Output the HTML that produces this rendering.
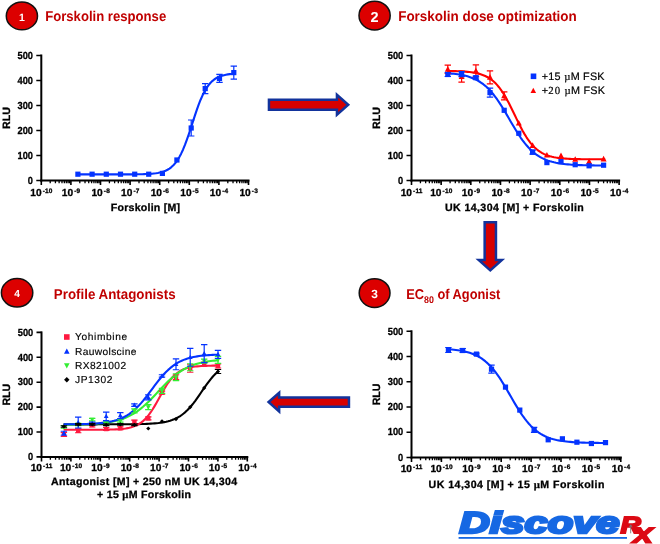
<!DOCTYPE html><html><head><meta charset="utf-8"><title>Forskolin assay workflow</title><style>html,body{margin:0;padding:0;background:#fff}svg{display:block}</style></head><body>
<svg width="660" height="544" viewBox="0 0 660 544" text-rendering="geometricPrecision">
<rect width="660" height="544" fill="#fff"/>
<g stroke="#000" stroke-width="2" fill="none" stroke-linecap="butt">
<path d="M41.30 54.50V181.50"/>
<path d="M40.30 180.50H249.50"/>
</g>
<path d="M36.30 180.50H41.30M36.30 155.50H41.30M36.30 130.50H41.30M36.30 105.50H41.30M36.30 80.50H41.30M36.30 55.50H41.30" stroke="#000" stroke-width="1.6" fill="none"/>
<path d="M41.30 180.50V185.00M70.90 180.50V185.00M100.50 180.50V185.00M130.10 180.50V185.00M159.70 180.50V185.00M189.30 180.50V185.00M218.90 180.50V185.00M248.50 180.50V185.00" stroke="#000" stroke-width="1.6" fill="none"/>
<path d="M50.21 180.50V183.30M55.42 180.50V183.30M59.12 180.50V183.30M61.99 180.50V183.30M64.33 180.50V183.30M66.31 180.50V183.30M68.03 180.50V183.30M69.55 180.50V183.30M79.81 180.50V183.30M85.02 180.50V183.30M88.72 180.50V183.30M91.59 180.50V183.30M93.93 180.50V183.30M95.91 180.50V183.30M97.63 180.50V183.30M99.15 180.50V183.30M109.41 180.50V183.30M114.62 180.50V183.30M118.32 180.50V183.30M121.19 180.50V183.30M123.53 180.50V183.30M125.51 180.50V183.30M127.23 180.50V183.30M128.75 180.50V183.30M139.01 180.50V183.30M144.22 180.50V183.30M147.92 180.50V183.30M150.79 180.50V183.30M153.13 180.50V183.30M155.11 180.50V183.30M156.83 180.50V183.30M158.35 180.50V183.30M168.61 180.50V183.30M173.82 180.50V183.30M177.52 180.50V183.30M180.39 180.50V183.30M182.73 180.50V183.30M184.71 180.50V183.30M186.43 180.50V183.30M187.95 180.50V183.30M198.21 180.50V183.30M203.42 180.50V183.30M207.12 180.50V183.30M209.99 180.50V183.30M212.33 180.50V183.30M214.31 180.50V183.30M216.03 180.50V183.30M217.55 180.50V183.30M227.81 180.50V183.30M233.02 180.50V183.30M236.72 180.50V183.30M239.59 180.50V183.30M241.93 180.50V183.30M243.91 180.50V183.30M245.63 180.50V183.30M247.15 180.50V183.30" stroke="#000" stroke-width="1.3" fill="none"/>
<g font-family='"Liberation Sans", Arial, sans-serif' font-weight="bold" font-size="10.3" fill="#000" stroke="#000" stroke-width="0.3" text-anchor="end">
<text transform="translate(33.00 183.70) scale(0.9 1)">0</text>
<text transform="translate(33.00 158.70) scale(0.9 1)">100</text>
<text transform="translate(33.00 133.70) scale(0.9 1)">200</text>
<text transform="translate(33.00 108.70) scale(0.9 1)">300</text>
<text transform="translate(33.00 83.70) scale(0.9 1)">400</text>
<text transform="translate(33.00 58.70) scale(0.9 1)">500</text>
</g>
<g font-family='"Liberation Sans", Arial, sans-serif' font-weight="bold" font-size="10.2" fill="#000" stroke="#000" stroke-width="0.3">
<text x="41.50" y="196.30" text-anchor="middle">10<tspan font-size="6.5" dy="-3.0" dx="1.0" letter-spacing="0.2">-10</tspan></text>
<text x="71.10" y="196.30" text-anchor="middle">10<tspan font-size="6.5" dy="-3.0" dx="1.0" letter-spacing="0.2">-9</tspan></text>
<text x="100.70" y="196.30" text-anchor="middle">10<tspan font-size="6.5" dy="-3.0" dx="1.0" letter-spacing="0.2">-8</tspan></text>
<text x="130.30" y="196.30" text-anchor="middle">10<tspan font-size="6.5" dy="-3.0" dx="1.0" letter-spacing="0.2">-7</tspan></text>
<text x="159.90" y="196.30" text-anchor="middle">10<tspan font-size="6.5" dy="-3.0" dx="1.0" letter-spacing="0.2">-6</tspan></text>
<text x="189.50" y="196.30" text-anchor="middle">10<tspan font-size="6.5" dy="-3.0" dx="1.0" letter-spacing="0.2">-5</tspan></text>
<text x="219.10" y="196.30" text-anchor="middle">10<tspan font-size="6.5" dy="-3.0" dx="1.0" letter-spacing="0.2">-4</tspan></text>
<text x="248.70" y="196.30" text-anchor="middle">10<tspan font-size="6.5" dy="-3.0" dx="1.0" letter-spacing="0.2">-3</tspan></text>
</g>
<text transform="translate(9.90 118.00) rotate(-90)" font-family='"Liberation Sans", Arial, sans-serif' font-weight="bold" font-size="10.6" text-anchor="middle" fill="#000" stroke="#000" stroke-width="0.3">RLU</text>
<text x="110.75" y="210.50" font-family='"Liberation Sans", Arial, sans-serif' font-weight="bold" font-size="10.6" textLength="69.30" lengthAdjust="spacing" fill="#000" stroke="#000" stroke-width="0.3">Forskolin [M]</text>
<path d="M78.00 174.42 L79.95 174.42 L81.90 174.42 L83.84 174.42 L85.79 174.42 L87.73 174.42 L89.68 174.42 L91.63 174.42 L93.57 174.42 L95.52 174.42 L97.47 174.42 L99.41 174.42 L101.36 174.42 L103.30 174.42 L105.25 174.42 L107.20 174.42 L109.14 174.42 L111.09 174.42 L113.04 174.42 L114.98 174.42 L116.93 174.42 L118.87 174.41 L120.82 174.41 L122.77 174.40 L124.71 174.40 L126.66 174.39 L128.61 174.38 L130.55 174.37 L132.50 174.36 L134.44 174.34 L136.39 174.32 L138.34 174.29 L140.28 174.25 L142.23 174.21 L144.17 174.15 L146.12 174.07 L148.07 173.98 L150.01 173.86 L151.96 173.71 L153.91 173.51 L155.85 173.27 L157.80 172.96 L159.74 172.57 L161.69 172.09 L163.64 171.47 L165.58 170.71 L167.53 169.75 L169.48 168.56 L171.42 167.09 L173.37 165.30 L175.31 163.11 L177.26 160.47 L179.21 157.34 L181.15 153.68 L183.10 149.46 L185.05 144.70 L186.99 139.45 L188.94 133.80 L190.88 127.87 L192.83 121.83 L194.78 115.85 L196.72 110.09 L198.67 104.68 L200.61 99.74 L202.56 95.33 L204.51 91.47 L206.45 88.15 L208.40 85.35 L210.35 83.01 L212.29 81.08 L214.24 79.50 L216.18 78.22 L218.13 77.18 L220.08 76.35 L222.02 75.69 L223.97 75.16 L225.92 74.74 L227.86 74.41 L229.81 74.14 L231.75 73.93 L233.70 73.77" stroke="#0433ff" stroke-width="2.1" fill="none" stroke-linejoin="round"/>
<path d="M191.20 120.00V136.00M188.00 120.00H194.40M188.00 136.00H194.40" stroke="#0433ff" stroke-width="1.2" fill="none"/>
<path d="M205.20 83.60V93.60M202.00 83.60H208.40M202.00 93.60H208.40" stroke="#0433ff" stroke-width="1.2" fill="none"/>
<path d="M219.50 74.40V82.40M216.30 74.40H222.70M216.30 82.40H222.70" stroke="#0433ff" stroke-width="1.2" fill="none"/>
<path d="M233.80 66.10V79.10M230.60 66.10H237.00M230.60 79.10H237.00" stroke="#0433ff" stroke-width="1.2" fill="none"/>
<rect x="75.30" y="171.60" width="5.20" height="5.20" fill="#0433ff"/>
<rect x="89.50" y="171.60" width="5.20" height="5.20" fill="#0433ff"/>
<rect x="103.70" y="171.60" width="5.20" height="5.20" fill="#0433ff"/>
<rect x="117.90" y="171.60" width="5.20" height="5.20" fill="#0433ff"/>
<rect x="132.10" y="171.60" width="5.20" height="5.20" fill="#0433ff"/>
<rect x="146.10" y="171.60" width="5.20" height="5.20" fill="#0433ff"/>
<rect x="159.80" y="170.80" width="5.20" height="5.20" fill="#0433ff"/>
<rect x="174.30" y="157.40" width="5.20" height="5.20" fill="#0433ff"/>
<rect x="188.60" y="125.40" width="5.20" height="5.20" fill="#0433ff"/>
<rect x="202.60" y="86.00" width="5.20" height="5.20" fill="#0433ff"/>
<rect x="216.90" y="75.80" width="5.20" height="5.20" fill="#0433ff"/>
<rect x="231.20" y="70.00" width="5.20" height="5.20" fill="#0433ff"/>
<g stroke="#000" stroke-width="2" fill="none" stroke-linecap="butt">
<path d="M411.50 54.50V181.50"/>
<path d="M410.50 180.50H620.12"/>
</g>
<path d="M406.50 180.50H411.50M406.50 155.50H411.50M406.50 130.50H411.50M406.50 105.50H411.50M406.50 80.50H411.50M406.50 55.50H411.50" stroke="#000" stroke-width="1.6" fill="none"/>
<path d="M411.50 180.50V185.00M441.16 180.50V185.00M470.82 180.50V185.00M500.48 180.50V185.00M530.14 180.50V185.00M559.80 180.50V185.00M589.46 180.50V185.00M619.12 180.50V185.00" stroke="#000" stroke-width="1.6" fill="none"/>
<path d="M420.43 180.50V183.30M425.65 180.50V183.30M429.36 180.50V183.30M432.23 180.50V183.30M434.58 180.50V183.30M436.57 180.50V183.30M438.29 180.50V183.30M439.80 180.50V183.30M450.09 180.50V183.30M455.31 180.50V183.30M459.02 180.50V183.30M461.89 180.50V183.30M464.24 180.50V183.30M466.23 180.50V183.30M467.95 180.50V183.30M469.46 180.50V183.30M479.75 180.50V183.30M484.97 180.50V183.30M488.68 180.50V183.30M491.55 180.50V183.30M493.90 180.50V183.30M495.89 180.50V183.30M497.61 180.50V183.30M499.12 180.50V183.30M509.41 180.50V183.30M514.63 180.50V183.30M518.34 180.50V183.30M521.21 180.50V183.30M523.56 180.50V183.30M525.55 180.50V183.30M527.27 180.50V183.30M528.78 180.50V183.30M539.07 180.50V183.30M544.29 180.50V183.30M548.00 180.50V183.30M550.87 180.50V183.30M553.22 180.50V183.30M555.21 180.50V183.30M556.93 180.50V183.30M558.44 180.50V183.30M568.73 180.50V183.30M573.95 180.50V183.30M577.66 180.50V183.30M580.53 180.50V183.30M582.88 180.50V183.30M584.87 180.50V183.30M586.59 180.50V183.30M588.10 180.50V183.30M598.39 180.50V183.30M603.61 180.50V183.30M607.32 180.50V183.30M610.19 180.50V183.30M612.54 180.50V183.30M614.53 180.50V183.30M616.25 180.50V183.30M617.76 180.50V183.30" stroke="#000" stroke-width="1.3" fill="none"/>
<g font-family='"Liberation Sans", Arial, sans-serif' font-weight="bold" font-size="10.3" fill="#000" stroke="#000" stroke-width="0.3" text-anchor="end">
<text transform="translate(403.20 183.70) scale(0.9 1)">0</text>
<text transform="translate(403.20 158.70) scale(0.9 1)">100</text>
<text transform="translate(403.20 133.70) scale(0.9 1)">200</text>
<text transform="translate(403.20 108.70) scale(0.9 1)">300</text>
<text transform="translate(403.20 83.70) scale(0.9 1)">400</text>
<text transform="translate(403.20 58.70) scale(0.9 1)">500</text>
</g>
<g font-family='"Liberation Sans", Arial, sans-serif' font-weight="bold" font-size="10.2" fill="#000" stroke="#000" stroke-width="0.3">
<text x="411.70" y="196.30" text-anchor="middle">10<tspan font-size="6.5" dy="-3.0" dx="1.0" letter-spacing="0.2">-11</tspan></text>
<text x="441.36" y="196.30" text-anchor="middle">10<tspan font-size="6.5" dy="-3.0" dx="1.0" letter-spacing="0.2">-10</tspan></text>
<text x="471.02" y="196.30" text-anchor="middle">10<tspan font-size="6.5" dy="-3.0" dx="1.0" letter-spacing="0.2">-9</tspan></text>
<text x="500.68" y="196.30" text-anchor="middle">10<tspan font-size="6.5" dy="-3.0" dx="1.0" letter-spacing="0.2">-8</tspan></text>
<text x="530.34" y="196.30" text-anchor="middle">10<tspan font-size="6.5" dy="-3.0" dx="1.0" letter-spacing="0.2">-7</tspan></text>
<text x="560.00" y="196.30" text-anchor="middle">10<tspan font-size="6.5" dy="-3.0" dx="1.0" letter-spacing="0.2">-6</tspan></text>
<text x="589.66" y="196.30" text-anchor="middle">10<tspan font-size="6.5" dy="-3.0" dx="1.0" letter-spacing="0.2">-5</tspan></text>
<text x="619.32" y="196.30" text-anchor="middle">10<tspan font-size="6.5" dy="-3.0" dx="1.0" letter-spacing="0.2">-4</tspan></text>
</g>
<text transform="translate(379.80 118.00) rotate(-90)" font-family='"Liberation Sans", Arial, sans-serif' font-weight="bold" font-size="10.6" text-anchor="middle" fill="#000" stroke="#000" stroke-width="0.3">RLU</text>
<text x="445.00" y="210.50" font-family='"Liberation Sans", Arial, sans-serif' font-weight="bold" font-size="10.6" textLength="138.80" lengthAdjust="spacing" fill="#000" stroke="#000" stroke-width="0.3">UK 14,304 [M] + Forskolin</text>
<path d="M447.86 70.97 L449.82 71.00 L451.79 71.04 L453.76 71.09 L455.72 71.15 L457.69 71.22 L459.66 71.30 L461.62 71.40 L463.59 71.52 L465.56 71.66 L467.52 71.84 L469.49 72.05 L471.46 72.29 L473.42 72.59 L475.39 72.95 L477.36 73.37 L479.32 73.87 L481.29 74.47 L483.26 75.17 L485.23 76.01 L487.19 76.99 L489.16 78.14 L491.13 79.49 L493.09 81.04 L495.06 82.84 L497.03 84.89 L498.99 87.22 L500.96 89.83 L502.93 92.74 L504.89 95.92 L506.86 99.38 L508.83 103.06 L510.79 106.93 L512.76 110.94 L514.73 115.01 L516.69 119.09 L518.66 123.10 L520.63 126.98 L522.59 130.67 L524.56 134.12 L526.53 137.32 L528.49 140.23 L530.46 142.85 L532.43 145.19 L534.40 147.25 L536.36 149.05 L538.33 150.62 L540.30 151.97 L542.26 153.13 L544.23 154.11 L546.20 154.95 L548.16 155.66 L550.13 156.26 L552.10 156.77 L554.06 157.19 L556.03 157.55 L558.00 157.85 L559.96 158.10 L561.93 158.31 L563.90 158.48 L565.86 158.63 L567.83 158.75 L569.80 158.85 L571.76 158.93 L573.73 159.00 L575.70 159.06 L577.66 159.11 L579.63 159.15 L581.60 159.18 L583.57 159.21 L585.53 159.23 L587.50 159.25 L589.47 159.27 L591.43 159.28 L593.40 159.29 L595.37 159.30 L597.33 159.31 L599.30 159.32 L601.27 159.32 L603.23 159.33 L605.20 159.33" stroke="#ff0000" stroke-width="2.1" fill="none" stroke-linejoin="round"/>
<path d="M447.86 73.26 L449.82 73.42 L451.79 73.59 L453.76 73.80 L455.72 74.03 L457.69 74.30 L459.66 74.61 L461.62 74.96 L463.59 75.37 L465.56 75.83 L467.52 76.36 L469.49 76.97 L471.46 77.67 L473.42 78.45 L475.39 79.35 L477.36 80.36 L479.32 81.50 L481.29 82.78 L483.26 84.21 L485.23 85.81 L487.19 87.58 L489.16 89.54 L491.13 91.68 L493.09 94.01 L495.06 96.53 L497.03 99.23 L498.99 102.10 L500.96 105.12 L502.93 108.28 L504.89 111.55 L506.86 114.89 L508.83 118.27 L510.79 121.66 L512.76 125.02 L514.73 128.32 L516.69 131.52 L518.66 134.60 L520.63 137.54 L522.59 140.31 L524.56 142.90 L526.53 145.30 L528.49 147.52 L530.46 149.54 L532.43 151.39 L534.40 153.05 L536.36 154.55 L538.33 155.89 L540.30 157.08 L542.26 158.14 L544.23 159.08 L546.20 159.91 L548.16 160.64 L550.13 161.28 L552.10 161.84 L554.06 162.33 L556.03 162.76 L558.00 163.14 L559.96 163.46 L561.93 163.74 L563.90 163.99 L565.86 164.21 L567.83 164.39 L569.80 164.55 L571.76 164.69 L573.73 164.82 L575.70 164.92 L577.66 165.01 L579.63 165.09 L581.60 165.16 L583.57 165.22 L585.53 165.27 L587.50 165.32 L589.47 165.35 L591.43 165.39 L593.40 165.42 L595.37 165.44 L597.33 165.46 L599.30 165.48 L601.27 165.50 L603.23 165.51 L605.20 165.52" stroke="#0433ff" stroke-width="2.1" fill="none" stroke-linejoin="round"/>
<path d="M447.80 65.10V73.50M444.60 65.10H451.00M444.60 73.50H451.00" stroke="#ff0000" stroke-width="1.2" fill="none"/>
<path d="M461.60 71.10V82.10M458.40 71.10H464.80M458.40 82.10H464.80" stroke="#ff0000" stroke-width="1.2" fill="none"/>
<path d="M475.90 64.90V76.90M472.70 64.90H479.10M472.70 76.90H479.10" stroke="#ff0000" stroke-width="1.2" fill="none"/>
<path d="M490.00 70.80V83.80M486.80 70.80H493.20M486.80 83.80H493.20" stroke="#ff0000" stroke-width="1.2" fill="none"/>
<path d="M504.20 91.80V99.80M501.00 91.80H507.40M501.00 99.80H507.40" stroke="#ff0000" stroke-width="1.2" fill="none"/>
<path d="M447.80 66.10L450.80 71.70H444.80Z" fill="#ff0000"/>
<path d="M461.60 73.40L464.60 79.00H458.60Z" fill="#ff0000"/>
<path d="M475.90 67.70L478.90 73.30H472.90Z" fill="#ff0000"/>
<path d="M490.00 74.10L493.00 79.70H487.00Z" fill="#ff0000"/>
<path d="M504.20 92.60L507.20 98.20H501.20Z" fill="#ff0000"/>
<path d="M518.80 119.90L521.80 125.50H515.80Z" fill="#ff0000"/>
<path d="M532.60 142.30L535.60 147.90H529.60Z" fill="#ff0000"/>
<path d="M546.90 152.00L549.90 157.60H543.90Z" fill="#ff0000"/>
<path d="M561.00 152.60L564.00 158.20H558.00Z" fill="#ff0000"/>
<path d="M575.20 156.20L578.20 161.80H572.20Z" fill="#ff0000"/>
<path d="M589.10 158.30L592.10 163.90H586.10Z" fill="#ff0000"/>
<path d="M603.60 155.80L606.60 161.40H600.60Z" fill="#ff0000"/>
<path d="M447.80 72.50V76.50M444.60 72.50H451.00M444.60 76.50H451.00" stroke="#0433ff" stroke-width="1.2" fill="none"/>
<path d="M461.60 71.60V76.60M458.40 71.60H464.80M458.40 76.60H464.80" stroke="#0433ff" stroke-width="1.2" fill="none"/>
<path d="M475.90 76.20V79.20M472.70 76.20H479.10M472.70 79.20H479.10" stroke="#0433ff" stroke-width="1.2" fill="none"/>
<path d="M490.00 88.10V97.10M486.80 88.10H493.20M486.80 97.10H493.20" stroke="#0433ff" stroke-width="1.2" fill="none"/>
<path d="M532.60 150.20V154.20M529.40 150.20H535.80M529.40 154.20H535.80" stroke="#0433ff" stroke-width="1.2" fill="none"/>
<rect x="445.20" y="71.90" width="5.20" height="5.20" fill="#0433ff"/>
<rect x="459.00" y="71.50" width="5.20" height="5.20" fill="#0433ff"/>
<rect x="473.30" y="75.10" width="5.20" height="5.20" fill="#0433ff"/>
<rect x="487.40" y="90.00" width="5.20" height="5.20" fill="#0433ff"/>
<rect x="501.60" y="107.70" width="5.20" height="5.20" fill="#0433ff"/>
<rect x="516.20" y="130.70" width="5.20" height="5.20" fill="#0433ff"/>
<rect x="530.00" y="149.60" width="5.20" height="5.20" fill="#0433ff"/>
<rect x="544.30" y="160.00" width="5.20" height="5.20" fill="#0433ff"/>
<rect x="558.40" y="159.00" width="5.20" height="5.20" fill="#0433ff"/>
<rect x="572.60" y="162.10" width="5.20" height="5.20" fill="#0433ff"/>
<rect x="586.50" y="163.20" width="5.20" height="5.20" fill="#0433ff"/>
<rect x="601.00" y="162.60" width="5.20" height="5.20" fill="#0433ff"/>
<rect x="530.70" y="73.50" width="5.60" height="5.60" fill="#0433ff"/>
<path d="M533.30 87.80L536.10 93.00H530.50Z" fill="#ff0000"/>
<text x="541.8" y="80" font-family='"Liberation Sans", Arial, sans-serif' font-size="10.8" fill="#000" letter-spacing="0.18" stroke="#000" stroke-width="0.2">+15 <tspan dx="0.5" font-family="'Liberation Serif',serif">µ</tspan>M FSK</text>
<text x="541.8" y="94.4" font-family='"Liberation Sans", Arial, sans-serif' font-size="10.8" fill="#000" letter-spacing="0.22" stroke="#000" stroke-width="0.2">+<tspan font-family="'Liberation Serif',serif" letter-spacing="1">20</tspan> <tspan dx="0.2" font-family="'Liberation Serif',serif">µ</tspan>M FSK</text>
<g stroke="#000" stroke-width="2" fill="none" stroke-linecap="butt">
<path d="M411.50 330.30V458.50"/>
<path d="M410.50 457.50H621.80"/>
</g>
<path d="M406.50 457.50H411.50M406.50 432.26H411.50M406.50 407.02H411.50M406.50 381.78H411.50M406.50 356.54H411.50M406.50 331.30H411.50" stroke="#000" stroke-width="1.6" fill="none"/>
<path d="M411.50 457.50V462.00M441.40 457.50V462.00M471.30 457.50V462.00M501.20 457.50V462.00M531.10 457.50V462.00M561.00 457.50V462.00M590.90 457.50V462.00M620.80 457.50V462.00" stroke="#000" stroke-width="1.6" fill="none"/>
<path d="M420.50 457.50V460.30M425.77 457.50V460.30M429.50 457.50V460.30M432.40 457.50V460.30M434.77 457.50V460.30M436.77 457.50V460.30M438.50 457.50V460.30M440.03 457.50V460.30M450.40 457.50V460.30M455.67 457.50V460.30M459.40 457.50V460.30M462.30 457.50V460.30M464.67 457.50V460.30M466.67 457.50V460.30M468.40 457.50V460.30M469.93 457.50V460.30M480.30 457.50V460.30M485.57 457.50V460.30M489.30 457.50V460.30M492.20 457.50V460.30M494.57 457.50V460.30M496.57 457.50V460.30M498.30 457.50V460.30M499.83 457.50V460.30M510.20 457.50V460.30M515.47 457.50V460.30M519.20 457.50V460.30M522.10 457.50V460.30M524.47 457.50V460.30M526.47 457.50V460.30M528.20 457.50V460.30M529.73 457.50V460.30M540.10 457.50V460.30M545.37 457.50V460.30M549.10 457.50V460.30M552.00 457.50V460.30M554.37 457.50V460.30M556.37 457.50V460.30M558.10 457.50V460.30M559.63 457.50V460.30M570.00 457.50V460.30M575.27 457.50V460.30M579.00 457.50V460.30M581.90 457.50V460.30M584.27 457.50V460.30M586.27 457.50V460.30M588.00 457.50V460.30M589.53 457.50V460.30M599.90 457.50V460.30M605.17 457.50V460.30M608.90 457.50V460.30M611.80 457.50V460.30M614.17 457.50V460.30M616.17 457.50V460.30M617.90 457.50V460.30M619.43 457.50V460.30" stroke="#000" stroke-width="1.3" fill="none"/>
<g font-family='"Liberation Sans", Arial, sans-serif' font-weight="bold" font-size="10.3" fill="#000" stroke="#000" stroke-width="0.3" text-anchor="end">
<text transform="translate(403.20 460.70) scale(0.9 1)">0</text>
<text transform="translate(403.20 435.46) scale(0.9 1)">100</text>
<text transform="translate(403.20 410.22) scale(0.9 1)">200</text>
<text transform="translate(403.20 384.98) scale(0.9 1)">300</text>
<text transform="translate(403.20 359.74) scale(0.9 1)">400</text>
<text transform="translate(403.20 334.50) scale(0.9 1)">500</text>
</g>
<g font-family='"Liberation Sans", Arial, sans-serif' font-weight="bold" font-size="10.2" fill="#000" stroke="#000" stroke-width="0.3">
<text x="411.70" y="472.00" text-anchor="middle">10<tspan font-size="6.5" dy="-3.0" dx="1.0" letter-spacing="0.2">-11</tspan></text>
<text x="441.60" y="472.00" text-anchor="middle">10<tspan font-size="6.5" dy="-3.0" dx="1.0" letter-spacing="0.2">-10</tspan></text>
<text x="471.50" y="472.00" text-anchor="middle">10<tspan font-size="6.5" dy="-3.0" dx="1.0" letter-spacing="0.2">-9</tspan></text>
<text x="501.40" y="472.00" text-anchor="middle">10<tspan font-size="6.5" dy="-3.0" dx="1.0" letter-spacing="0.2">-8</tspan></text>
<text x="531.30" y="472.00" text-anchor="middle">10<tspan font-size="6.5" dy="-3.0" dx="1.0" letter-spacing="0.2">-7</tspan></text>
<text x="561.20" y="472.00" text-anchor="middle">10<tspan font-size="6.5" dy="-3.0" dx="1.0" letter-spacing="0.2">-6</tspan></text>
<text x="591.10" y="472.00" text-anchor="middle">10<tspan font-size="6.5" dy="-3.0" dx="1.0" letter-spacing="0.2">-5</tspan></text>
<text x="621.00" y="472.00" text-anchor="middle">10<tspan font-size="6.5" dy="-3.0" dx="1.0" letter-spacing="0.2">-4</tspan></text>
</g>
<text transform="translate(379.80 394.40) rotate(-90)" font-family='"Liberation Sans", Arial, sans-serif' font-weight="bold" font-size="10.6" text-anchor="middle" fill="#000" stroke="#000" stroke-width="0.3">RLU</text>
<text x="428.60" y="487.80" font-family='"Liberation Sans", Arial, sans-serif' font-weight="bold" font-size="10.6" textLength="175.80" lengthAdjust="spacing" fill="#000" stroke="#000" stroke-width="0.3">UK 14,304 [M] + 15 <tspan font-family="'Liberation Serif',serif">µ</tspan>M Forskolin</text>
<path d="M447.98 349.22 L449.95 349.37 L451.92 349.54 L453.90 349.74 L455.87 349.97 L457.85 350.23 L459.82 350.53 L461.79 350.87 L463.77 351.26 L465.74 351.71 L467.71 352.23 L469.69 352.82 L471.66 353.49 L473.63 354.26 L475.61 355.13 L477.58 356.11 L479.55 357.22 L481.53 358.46 L483.50 359.86 L485.47 361.42 L487.45 363.15 L489.42 365.06 L491.39 367.16 L493.37 369.45 L495.34 371.93 L497.31 374.59 L499.29 377.44 L501.26 380.44 L503.23 383.59 L505.21 386.86 L507.18 390.22 L509.15 393.63 L511.13 397.07 L513.10 400.49 L515.07 403.86 L517.05 407.14 L519.02 410.32 L520.99 413.35 L522.97 416.23 L524.94 418.93 L526.91 421.44 L528.89 423.76 L530.86 425.90 L532.83 427.84 L534.81 429.60 L536.78 431.19 L538.75 432.62 L540.73 433.89 L542.70 435.02 L544.67 436.03 L546.65 436.92 L548.62 437.70 L550.59 438.39 L552.57 438.99 L554.54 439.52 L556.51 439.98 L558.49 440.39 L560.46 440.74 L562.44 441.05 L564.41 441.31 L566.38 441.55 L568.36 441.75 L570.33 441.92 L572.30 442.08 L574.28 442.21 L576.25 442.32 L578.22 442.42 L580.20 442.51 L582.17 442.58 L584.14 442.65 L586.12 442.70 L588.09 442.75 L590.06 442.79 L592.04 442.83 L594.01 442.86 L595.98 442.89 L597.96 442.91 L599.93 442.93 L601.90 442.95 L603.88 442.96 L605.85 442.98" stroke="#0433ff" stroke-width="2.1" fill="none" stroke-linejoin="round"/>
<path d="M448.40 347.50V352.50M445.20 347.50H451.60M445.20 352.50H451.60" stroke="#0433ff" stroke-width="1.2" fill="none"/>
<path d="M462.70 348.50V352.50M459.50 348.50H465.90M459.50 352.50H465.90" stroke="#0433ff" stroke-width="1.2" fill="none"/>
<path d="M476.50 353.10V355.10M473.30 353.10H479.70M473.30 355.10H479.70" stroke="#0433ff" stroke-width="1.2" fill="none"/>
<path d="M491.50 365.20V373.20M488.30 365.20H494.70M488.30 373.20H494.70" stroke="#0433ff" stroke-width="1.2" fill="none"/>
<path d="M534.10 427.30V432.30M530.90 427.30H537.30M530.90 432.30H537.30" stroke="#0433ff" stroke-width="1.2" fill="none"/>
<rect x="445.80" y="347.40" width="5.20" height="5.20" fill="#0433ff"/>
<rect x="460.10" y="347.90" width="5.20" height="5.20" fill="#0433ff"/>
<rect x="473.90" y="351.50" width="5.20" height="5.20" fill="#0433ff"/>
<rect x="488.90" y="366.60" width="5.20" height="5.20" fill="#0433ff"/>
<rect x="502.90" y="384.50" width="5.20" height="5.20" fill="#0433ff"/>
<rect x="517.20" y="407.50" width="5.20" height="5.20" fill="#0433ff"/>
<rect x="531.50" y="427.20" width="5.20" height="5.20" fill="#0433ff"/>
<rect x="545.60" y="437.20" width="5.20" height="5.20" fill="#0433ff"/>
<rect x="559.80" y="436.20" width="5.20" height="5.20" fill="#0433ff"/>
<rect x="574.30" y="439.60" width="5.20" height="5.20" fill="#0433ff"/>
<rect x="588.80" y="440.90" width="5.20" height="5.20" fill="#0433ff"/>
<rect x="602.90" y="440.00" width="5.20" height="5.20" fill="#0433ff"/>
<g stroke="#000" stroke-width="2" fill="none" stroke-linecap="butt">
<path d="M41.50 331.40V457.90"/>
<path d="M40.50 456.90H248.30"/>
</g>
<path d="M36.50 456.90H41.50M36.50 432.00H41.50M36.50 407.10H41.50M36.50 382.20H41.50M36.50 357.30H41.50M36.50 332.40H41.50" stroke="#000" stroke-width="1.6" fill="none"/>
<path d="M41.50 456.90V461.40M70.90 456.90V461.40M100.30 456.90V461.40M129.70 456.90V461.40M159.10 456.90V461.40M188.50 456.90V461.40M217.90 456.90V461.40M247.30 456.90V461.40" stroke="#000" stroke-width="1.6" fill="none"/>
<path d="M50.35 456.90V459.70M55.53 456.90V459.70M59.20 456.90V459.70M62.05 456.90V459.70M64.38 456.90V459.70M66.35 456.90V459.70M68.05 456.90V459.70M69.55 456.90V459.70M79.75 456.90V459.70M84.93 456.90V459.70M88.60 456.90V459.70M91.45 456.90V459.70M93.78 456.90V459.70M95.75 456.90V459.70M97.45 456.90V459.70M98.95 456.90V459.70M109.15 456.90V459.70M114.33 456.90V459.70M118.00 456.90V459.70M120.85 456.90V459.70M123.18 456.90V459.70M125.15 456.90V459.70M126.85 456.90V459.70M128.35 456.90V459.70M138.55 456.90V459.70M143.73 456.90V459.70M147.40 456.90V459.70M150.25 456.90V459.70M152.58 456.90V459.70M154.55 456.90V459.70M156.25 456.90V459.70M157.75 456.90V459.70M167.95 456.90V459.70M173.13 456.90V459.70M176.80 456.90V459.70M179.65 456.90V459.70M181.98 456.90V459.70M183.95 456.90V459.70M185.65 456.90V459.70M187.15 456.90V459.70M197.35 456.90V459.70M202.53 456.90V459.70M206.20 456.90V459.70M209.05 456.90V459.70M211.38 456.90V459.70M213.35 456.90V459.70M215.05 456.90V459.70M216.55 456.90V459.70M226.75 456.90V459.70M231.93 456.90V459.70M235.60 456.90V459.70M238.45 456.90V459.70M240.78 456.90V459.70M242.75 456.90V459.70M244.45 456.90V459.70M245.95 456.90V459.70" stroke="#000" stroke-width="1.3" fill="none"/>
<g font-family='"Liberation Sans", Arial, sans-serif' font-weight="bold" font-size="10.3" fill="#000" stroke="#000" stroke-width="0.3" text-anchor="end">
<text transform="translate(33.20 460.10) scale(0.9 1)">0</text>
<text transform="translate(33.20 435.20) scale(0.9 1)">100</text>
<text transform="translate(33.20 410.30) scale(0.9 1)">200</text>
<text transform="translate(33.20 385.40) scale(0.9 1)">300</text>
<text transform="translate(33.20 360.50) scale(0.9 1)">400</text>
<text transform="translate(33.20 335.60) scale(0.9 1)">500</text>
</g>
<g font-family='"Liberation Sans", Arial, sans-serif' font-weight="bold" font-size="10.2" fill="#000" stroke="#000" stroke-width="0.3">
<text x="41.70" y="470.70" text-anchor="middle">10<tspan font-size="6.5" dy="-3.0" dx="1.0" letter-spacing="0.2">-11</tspan></text>
<text x="71.10" y="470.70" text-anchor="middle">10<tspan font-size="6.5" dy="-3.0" dx="1.0" letter-spacing="0.2">-10</tspan></text>
<text x="100.50" y="470.70" text-anchor="middle">10<tspan font-size="6.5" dy="-3.0" dx="1.0" letter-spacing="0.2">-9</tspan></text>
<text x="129.90" y="470.70" text-anchor="middle">10<tspan font-size="6.5" dy="-3.0" dx="1.0" letter-spacing="0.2">-8</tspan></text>
<text x="159.30" y="470.70" text-anchor="middle">10<tspan font-size="6.5" dy="-3.0" dx="1.0" letter-spacing="0.2">-7</tspan></text>
<text x="188.70" y="470.70" text-anchor="middle">10<tspan font-size="6.5" dy="-3.0" dx="1.0" letter-spacing="0.2">-6</tspan></text>
<text x="218.10" y="470.70" text-anchor="middle">10<tspan font-size="6.5" dy="-3.0" dx="1.0" letter-spacing="0.2">-5</tspan></text>
<text x="247.50" y="470.70" text-anchor="middle">10<tspan font-size="6.5" dy="-3.0" dx="1.0" letter-spacing="0.2">-4</tspan></text>
</g>
<text transform="translate(10.20 394.65) rotate(-90)" font-family='"Liberation Sans", Arial, sans-serif' font-weight="bold" font-size="10.6" text-anchor="middle" fill="#000" stroke="#000" stroke-width="0.3">RLU</text>
<text x="51.10" y="485.20" font-family='"Liberation Sans", Arial, sans-serif' font-weight="bold" font-size="10.6" textLength="186.10" lengthAdjust="spacing" fill="#000" stroke="#000" stroke-width="0.3">Antagonist [M] + 250 nM UK 14,304</text>
<text x="97.00" y="498.40" font-family='"Liberation Sans", Arial, sans-serif' font-weight="bold" font-size="10.6" textLength="94.00" lengthAdjust="spacing" fill="#000" stroke="#000" stroke-width="0.3">+ 15 <tspan font-family="'Liberation Serif',serif">µ</tspan>M Forskolin</text>
<path d="M63.62 424.33 L65.56 424.33 L67.50 424.33 L69.43 424.33 L71.37 424.33 L73.30 424.33 L75.24 424.33 L77.18 424.33 L79.11 424.33 L81.05 424.33 L82.98 424.33 L84.92 424.33 L86.86 424.33 L88.79 424.33 L90.73 424.33 L92.66 424.33 L94.60 424.33 L96.54 424.33 L98.47 424.32 L100.41 424.32 L102.34 424.32 L104.28 424.32 L106.22 424.32 L108.15 424.32 L110.09 424.31 L112.02 424.31 L113.96 424.31 L115.90 424.30 L117.83 424.30 L119.77 424.29 L121.70 424.28 L123.64 424.27 L125.57 424.26 L127.51 424.25 L129.45 424.23 L131.38 424.21 L133.32 424.19 L135.25 424.17 L137.19 424.13 L139.13 424.10 L141.06 424.05 L143.00 424.00 L144.93 423.94 L146.87 423.86 L148.81 423.77 L150.74 423.67 L152.68 423.55 L154.61 423.40 L156.55 423.22 L158.49 423.02 L160.42 422.77 L162.36 422.48 L164.29 422.14 L166.23 421.74 L168.17 421.27 L170.10 420.72 L172.04 420.08 L173.97 419.33 L175.91 418.46 L177.85 417.46 L179.78 416.31 L181.72 415.00 L183.65 413.52 L185.59 411.85 L187.53 410.00 L189.46 407.96 L191.40 405.73 L193.33 403.33 L195.27 400.78 L197.20 398.10 L199.14 395.34 L201.08 392.52 L203.01 389.69 L204.95 386.89 L206.88 384.17 L208.82 381.56 L210.76 379.09 L212.69 376.79 L214.63 374.66 L216.56 372.72 L218.50 370.97" stroke="#000" stroke-width="2.1" fill="none" stroke-linejoin="round"/>
<path d="M63.62 429.81 L65.56 429.81 L67.50 429.81 L69.43 429.81 L71.37 429.81 L73.30 429.81 L75.24 429.80 L77.18 429.80 L79.11 429.80 L81.05 429.80 L82.98 429.80 L84.92 429.80 L86.86 429.79 L88.79 429.79 L90.73 429.78 L92.66 429.78 L94.60 429.77 L96.54 429.76 L98.47 429.74 L100.41 429.73 L102.34 429.71 L104.28 429.68 L106.22 429.65 L108.15 429.62 L110.09 429.57 L112.02 429.51 L113.96 429.44 L115.90 429.35 L117.83 429.24 L119.77 429.10 L121.70 428.92 L123.64 428.71 L125.57 428.45 L127.51 428.12 L129.45 427.72 L131.38 427.23 L133.32 426.62 L135.25 425.89 L137.19 425.00 L139.13 423.92 L141.06 422.64 L143.00 421.12 L144.93 419.33 L146.87 417.25 L148.81 414.89 L150.74 412.22 L152.68 409.28 L154.61 406.09 L156.55 402.72 L158.49 399.23 L160.42 395.70 L162.36 392.22 L164.29 388.86 L166.23 385.70 L168.17 382.79 L170.10 380.15 L172.04 377.82 L173.97 375.77 L175.91 374.01 L177.85 372.52 L179.78 371.26 L181.72 370.20 L183.65 369.33 L185.59 368.61 L187.53 368.02 L189.46 367.54 L191.40 367.14 L193.33 366.82 L195.27 366.57 L197.20 366.36 L199.14 366.19 L201.08 366.05 L203.01 365.94 L204.95 365.85 L206.88 365.78 L208.82 365.73 L210.76 365.68 L212.69 365.64 L214.63 365.61 L216.56 365.59 L218.50 365.57" stroke="#ff1a40" stroke-width="2.1" fill="none" stroke-linejoin="round"/>
<path d="M63.62 424.69 L65.56 424.67 L67.50 424.65 L69.43 424.62 L71.37 424.59 L73.30 424.56 L75.24 424.53 L77.18 424.49 L79.11 424.44 L81.05 424.39 L82.98 424.33 L84.92 424.27 L86.86 424.19 L88.79 424.11 L90.73 424.01 L92.66 423.90 L94.60 423.78 L96.54 423.64 L98.47 423.48 L100.41 423.31 L102.34 423.11 L104.28 422.89 L106.22 422.63 L108.15 422.35 L110.09 422.03 L112.02 421.67 L113.96 421.27 L115.90 420.82 L117.83 420.32 L119.77 419.76 L121.70 419.14 L123.64 418.45 L125.57 417.69 L127.51 416.85 L129.45 415.92 L131.38 414.90 L133.32 413.79 L135.25 412.59 L137.19 411.28 L139.13 409.87 L141.06 408.37 L143.00 406.76 L144.93 405.07 L146.87 403.28 L148.81 401.42 L150.74 399.48 L152.68 397.49 L154.61 395.46 L156.55 393.40 L158.49 391.32 L160.42 389.25 L162.36 387.21 L164.29 385.20 L166.23 383.24 L168.17 381.34 L170.10 379.52 L172.04 377.78 L173.97 376.14 L175.91 374.59 L177.85 373.14 L179.78 371.79 L181.72 370.54 L183.65 369.39 L185.59 368.33 L187.53 367.37 L189.46 366.49 L191.40 365.69 L193.33 364.97 L195.27 364.32 L197.20 363.73 L199.14 363.21 L201.08 362.74 L203.01 362.32 L204.95 361.94 L206.88 361.61 L208.82 361.31 L210.76 361.04 L212.69 360.81 L214.63 360.60 L216.56 360.41 L218.50 360.25" stroke="#33ee33" stroke-width="2.1" fill="none" stroke-linejoin="round"/>
<path d="M63.62 424.35 L65.56 424.34 L67.50 424.32 L69.43 424.31 L71.37 424.29 L73.30 424.26 L75.24 424.24 L77.18 424.21 L79.11 424.17 L81.05 424.13 L82.98 424.08 L84.92 424.02 L86.86 423.96 L88.79 423.88 L90.73 423.80 L92.66 423.70 L94.60 423.58 L96.54 423.44 L98.47 423.29 L100.41 423.11 L102.34 422.90 L104.28 422.66 L106.22 422.39 L108.15 422.07 L110.09 421.71 L112.02 421.29 L113.96 420.82 L115.90 420.27 L117.83 419.65 L119.77 418.94 L121.70 418.14 L123.64 417.24 L125.57 416.22 L127.51 415.08 L129.45 413.81 L131.38 412.40 L133.32 410.84 L135.25 409.14 L137.19 407.28 L139.13 405.29 L141.06 403.15 L143.00 400.88 L144.93 398.50 L146.87 396.03 L148.81 393.48 L150.74 390.89 L152.68 388.28 L154.61 385.69 L156.55 383.13 L158.49 380.64 L160.42 378.24 L162.36 375.96 L164.29 373.79 L166.23 371.77 L168.17 369.89 L170.10 368.16 L172.04 366.57 L173.97 365.14 L175.91 363.84 L177.85 362.67 L179.78 361.63 L181.72 360.71 L183.65 359.89 L185.59 359.17 L187.53 358.53 L189.46 357.97 L191.40 357.48 L193.33 357.06 L195.27 356.68 L197.20 356.36 L199.14 356.08 L201.08 355.83 L203.01 355.62 L204.95 355.43 L206.88 355.27 L208.82 355.14 L210.76 355.02 L212.69 354.91 L214.63 354.82 L216.56 354.75 L218.50 354.68" stroke="#0433ff" stroke-width="2.1" fill="none" stroke-linejoin="round"/>
<path d="M63.90 432.50V436.48M60.70 432.50H67.10M60.70 436.48H67.10" stroke="#ff1a40" stroke-width="1.2" fill="none"/>
<path d="M78.20 428.76V432.75M75.00 428.76H81.40M75.00 432.75H81.40" stroke="#ff1a40" stroke-width="1.2" fill="none"/>
<path d="M92.20 423.04V427.02M89.00 423.04H95.40M89.00 427.02H95.40" stroke="#ff1a40" stroke-width="1.2" fill="none"/>
<path d="M106.20 427.52V430.51M103.00 427.52H109.40M103.00 430.51H109.40" stroke="#ff1a40" stroke-width="1.2" fill="none"/>
<path d="M120.30 426.77V429.76M117.10 426.77H123.50M117.10 429.76H123.50" stroke="#ff1a40" stroke-width="1.2" fill="none"/>
<path d="M134.40 420.05V424.03M131.20 420.05H137.60M131.20 424.03H137.60" stroke="#ff1a40" stroke-width="1.2" fill="none"/>
<path d="M148.30 416.81V419.80M145.10 416.81H151.50M145.10 419.80H151.50" stroke="#ff1a40" stroke-width="1.2" fill="none"/>
<path d="M162.00 391.16V394.15M158.80 391.16H165.20M158.80 394.15H165.20" stroke="#ff1a40" stroke-width="1.2" fill="none"/>
<path d="M176.00 374.73V379.71M172.80 374.73H179.20M172.80 379.71H179.20" stroke="#ff1a40" stroke-width="1.2" fill="none"/>
<path d="M190.20 364.77V372.24M187.00 364.77H193.40M187.00 372.24H193.40" stroke="#ff1a40" stroke-width="1.2" fill="none"/>
<path d="M204.20 362.28V366.26M201.00 362.28H207.40M201.00 366.26H207.40" stroke="#ff1a40" stroke-width="1.2" fill="none"/>
<path d="M218.00 364.02V368.01M214.80 364.02H221.20M214.80 368.01H221.20" stroke="#ff1a40" stroke-width="1.2" fill="none"/>
<rect x="61.70" y="432.29" width="4.40" height="4.40" fill="#ff1a40"/>
<rect x="76.00" y="428.56" width="4.40" height="4.40" fill="#ff1a40"/>
<rect x="90.00" y="422.83" width="4.40" height="4.40" fill="#ff1a40"/>
<rect x="104.00" y="426.81" width="4.40" height="4.40" fill="#ff1a40"/>
<rect x="118.10" y="426.06" width="4.40" height="4.40" fill="#ff1a40"/>
<rect x="132.20" y="419.84" width="4.40" height="4.40" fill="#ff1a40"/>
<rect x="146.10" y="416.10" width="4.40" height="4.40" fill="#ff1a40"/>
<rect x="159.80" y="390.46" width="4.40" height="4.40" fill="#ff1a40"/>
<rect x="173.80" y="375.02" width="4.40" height="4.40" fill="#ff1a40"/>
<rect x="188.00" y="366.31" width="4.40" height="4.40" fill="#ff1a40"/>
<rect x="202.00" y="362.07" width="4.40" height="4.40" fill="#ff1a40"/>
<rect x="215.80" y="363.81" width="4.40" height="4.40" fill="#ff1a40"/>
<path d="M63.90 425.77V428.26M60.70 425.77H67.10M60.70 428.26H67.10" stroke="#33ee33" stroke-width="1.2" fill="none"/>
<path d="M78.20 423.28V425.77M75.00 423.28H81.40M75.00 425.77H81.40" stroke="#33ee33" stroke-width="1.2" fill="none"/>
<path d="M92.20 418.30V420.79M89.00 418.30H95.40M89.00 420.79H95.40" stroke="#33ee33" stroke-width="1.2" fill="none"/>
<path d="M106.20 422.04V424.53M103.00 422.04H109.40M103.00 424.53H109.40" stroke="#33ee33" stroke-width="1.2" fill="none"/>
<path d="M120.30 419.55V422.04M117.10 419.55H123.50M117.10 422.04H123.50" stroke="#33ee33" stroke-width="1.2" fill="none"/>
<path d="M134.40 408.84V412.83M131.20 408.84H137.60M131.20 412.83H137.60" stroke="#33ee33" stroke-width="1.2" fill="none"/>
<path d="M148.30 404.61V409.59M145.10 404.61H151.50M145.10 409.59H151.50" stroke="#33ee33" stroke-width="1.2" fill="none"/>
<path d="M162.00 388.42V393.40M158.80 388.42H165.20M158.80 393.40H165.20" stroke="#33ee33" stroke-width="1.2" fill="none"/>
<path d="M176.00 373.73V380.71M172.80 373.73H179.20M172.80 380.71H179.20" stroke="#33ee33" stroke-width="1.2" fill="none"/>
<path d="M190.20 363.77V370.75M187.00 363.77H193.40M187.00 370.75H193.40" stroke="#33ee33" stroke-width="1.2" fill="none"/>
<path d="M204.20 359.04V363.03M201.00 359.04H207.40M201.00 363.03H207.40" stroke="#33ee33" stroke-width="1.2" fill="none"/>
<path d="M218.00 356.30V363.28M214.80 356.30H221.20M214.80 363.28H221.20" stroke="#33ee33" stroke-width="1.2" fill="none"/>
<path d="M63.90 429.62L66.30 425.22H61.50Z" fill="#33ee33"/>
<path d="M78.20 427.13L80.60 422.73H75.80Z" fill="#33ee33"/>
<path d="M92.20 422.15L94.60 417.75H89.80Z" fill="#33ee33"/>
<path d="M106.20 425.88L108.60 421.48H103.80Z" fill="#33ee33"/>
<path d="M120.30 423.39L122.70 418.99H117.90Z" fill="#33ee33"/>
<path d="M134.40 413.44L136.80 409.03H132.00Z" fill="#33ee33"/>
<path d="M148.30 409.70L150.70 405.30H145.90Z" fill="#33ee33"/>
<path d="M162.00 393.51L164.40 389.11H159.60Z" fill="#33ee33"/>
<path d="M176.00 379.82L178.40 375.42H173.60Z" fill="#33ee33"/>
<path d="M190.20 369.86L192.60 365.46H187.80Z" fill="#33ee33"/>
<path d="M204.20 363.63L206.60 359.23H201.80Z" fill="#33ee33"/>
<path d="M218.00 362.39L220.40 357.99H215.60Z" fill="#33ee33"/>
<path d="M63.90 431.25V435.24M60.70 431.25H67.10M60.70 435.24H67.10" stroke="#0433ff" stroke-width="1.2" fill="none"/>
<path d="M78.20 417.06V428.02M75.00 417.06H81.40M75.00 428.02H81.40" stroke="#0433ff" stroke-width="1.2" fill="none"/>
<path d="M92.20 422.04V424.53M89.00 422.04H95.40M89.00 424.53H95.40" stroke="#0433ff" stroke-width="1.2" fill="none"/>
<path d="M106.20 412.08V420.55M103.00 412.08H109.40M103.00 420.55H109.40" stroke="#0433ff" stroke-width="1.2" fill="none"/>
<path d="M120.30 412.58V418.55M117.10 412.58H123.50M117.10 418.55H123.50" stroke="#0433ff" stroke-width="1.2" fill="none"/>
<path d="M134.40 403.86V406.35M131.20 403.86H137.60M131.20 406.35H137.60" stroke="#0433ff" stroke-width="1.2" fill="none"/>
<path d="M148.30 394.90V399.88M145.10 394.90H151.50M145.10 399.88H151.50" stroke="#0433ff" stroke-width="1.2" fill="none"/>
<path d="M162.00 374.73V377.22M158.80 374.73H165.20M158.80 377.22H165.20" stroke="#0433ff" stroke-width="1.2" fill="none"/>
<path d="M176.00 358.79V369.75M172.80 358.79H179.20M172.80 369.75H179.20" stroke="#0433ff" stroke-width="1.2" fill="none"/>
<path d="M190.20 348.34V366.26M187.00 348.34H193.40M187.00 366.26H193.40" stroke="#0433ff" stroke-width="1.2" fill="none"/>
<path d="M204.20 344.60V362.53M201.00 344.60H207.40M201.00 362.53H207.40" stroke="#0433ff" stroke-width="1.2" fill="none"/>
<path d="M218.00 350.33V358.30M214.80 350.33H221.20M214.80 358.30H221.20" stroke="#0433ff" stroke-width="1.2" fill="none"/>
<path d="M63.90 430.64L66.30 435.05H61.50Z" fill="#0433ff"/>
<path d="M78.20 419.94L80.60 424.34H75.80Z" fill="#0433ff"/>
<path d="M92.20 420.68L94.60 425.08H89.80Z" fill="#0433ff"/>
<path d="M106.20 413.71L108.60 418.11H103.80Z" fill="#0433ff"/>
<path d="M120.30 412.97L122.70 417.37H117.90Z" fill="#0433ff"/>
<path d="M134.40 402.51L136.80 406.91H132.00Z" fill="#0433ff"/>
<path d="M148.30 394.79L150.70 399.19H145.90Z" fill="#0433ff"/>
<path d="M162.00 373.37L164.40 377.77H159.60Z" fill="#0433ff"/>
<path d="M176.00 361.67L178.40 366.07H173.60Z" fill="#0433ff"/>
<path d="M190.20 354.70L192.60 359.10H187.80Z" fill="#0433ff"/>
<path d="M204.20 350.96L206.60 355.37H201.80Z" fill="#0433ff"/>
<path d="M218.00 351.71L220.40 356.11H215.60Z" fill="#0433ff"/>
<path d="M63.90 425.77V427.27M60.70 425.77H67.10M60.70 427.27H67.10" stroke="#000" stroke-width="1.2" fill="none"/>
<path d="M78.20 423.53V425.03M75.00 423.53H81.40M75.00 425.03H81.40" stroke="#000" stroke-width="1.2" fill="none"/>
<path d="M92.20 423.53V425.03M89.00 423.53H95.40M89.00 425.03H95.40" stroke="#000" stroke-width="1.2" fill="none"/>
<path d="M106.20 424.03V425.53M103.00 424.03H109.40M103.00 425.53H109.40" stroke="#000" stroke-width="1.2" fill="none"/>
<path d="M120.30 423.53V425.03M117.10 423.53H123.50M117.10 425.03H123.50" stroke="#000" stroke-width="1.2" fill="none"/>
<path d="M134.40 424.03V425.53M131.20 424.03H137.60M131.20 425.53H137.60" stroke="#000" stroke-width="1.2" fill="none"/>
<path d="M218.00 369.50V373.49M214.80 369.50H221.20M214.80 373.49H221.20" stroke="#000" stroke-width="1.2" fill="none"/>
<path d="M63.90 424.42L66.00 426.52L63.90 428.62L61.80 426.52Z" fill="#000"/>
<path d="M78.20 422.18L80.30 424.28L78.20 426.38L76.10 424.28Z" fill="#000"/>
<path d="M92.20 422.18L94.30 424.28L92.20 426.38L90.10 424.28Z" fill="#000"/>
<path d="M106.20 422.68L108.30 424.78L106.20 426.88L104.10 424.78Z" fill="#000"/>
<path d="M120.30 422.18L122.40 424.28L120.30 426.38L118.20 424.28Z" fill="#000"/>
<path d="M134.40 422.68L136.50 424.78L134.40 426.88L132.30 424.78Z" fill="#000"/>
<path d="M148.30 426.41L150.40 428.51L148.30 430.61L146.20 428.51Z" fill="#000"/>
<path d="M162.00 419.19L164.10 421.29L162.00 423.39L159.90 421.29Z" fill="#000"/>
<path d="M176.00 416.95L178.10 419.05L176.00 421.15L173.90 419.05Z" fill="#000"/>
<path d="M190.20 405.00L192.30 407.10L190.20 409.20L188.10 407.10Z" fill="#000"/>
<path d="M204.20 385.83L206.30 387.93L204.20 390.03L202.10 387.93Z" fill="#000"/>
<path d="M218.00 369.39L220.10 371.49L218.00 373.59L215.90 371.49Z" fill="#000"/>
<rect x="64.00" y="334.20" width="5.60" height="5.60" fill="#ff1a40"/>
<path d="M66.80 348.50L69.60 353.70H64.00Z" fill="#0433ff"/>
<path d="M66.80 368.50L69.60 363.30H64.00Z" fill="#33ee33"/>
<path d="M66.80 377.10L69.50 379.80L66.80 382.50L64.10 379.80Z" fill="#000"/>
<text x="75" y="340.40" font-family='"Liberation Sans", Arial, sans-serif' font-size="10.2" fill="#000" stroke="#000" stroke-width="0.15" textLength="52.2" lengthAdjust="spacing">Yohimbine</text>
<text x="75" y="354.70" font-family='"Liberation Sans", Arial, sans-serif' font-size="10.2" fill="#000" stroke="#000" stroke-width="0.15" textLength="61.4" lengthAdjust="spacing">Rauwolscine</text>
<text x="75" y="369.00" font-family='"Liberation Sans", Arial, sans-serif' font-size="10.2" fill="#000" stroke="#000" stroke-width="0.15" textLength="51.1" lengthAdjust="spacing">RX821002</text>
<text x="75" y="383.30" font-family='"Liberation Sans", Arial, sans-serif' font-size="10.2" fill="#000" stroke="#000" stroke-width="0.15" textLength="37.5" lengthAdjust="spacing">JP1302</text>
<path d="M268.95 99.80 L336.95 99.80 L336.95 94.78 L348.22 104.80 L336.95 114.82 L336.95 109.80 L268.95 109.80Z" fill="#d60000" stroke="#12339c" stroke-width="2.5" stroke-linejoin="miter"/>
<path d="M484.65 222.35 L484.65 260.05 L478.74 260.05 L490.30 270.33 L501.86 260.05 L495.95 260.05 L495.95 222.35Z" fill="#d60000" stroke="#12339c" stroke-width="2.5" stroke-linejoin="miter"/>
<path d="M348.95 397.45 L279.15 397.45 L279.15 392.72 L268.59 402.05 L279.15 411.38 L279.15 406.65 L348.95 406.65Z" fill="#d60000" stroke="#12339c" stroke-width="2.5" stroke-linejoin="miter"/>
<ellipse cx="21.9" cy="15.9" rx="15.6" ry="13.9" fill="#dc0000" stroke="#111" stroke-width="1.5"/>
<text x="21.9" y="20.56" font-family='"Liberation Sans", Arial, sans-serif' font-weight="bold" font-size="10.5" fill="#fff" text-anchor="middle">1</text>
<ellipse cx="374.6" cy="15.6" rx="15.6" ry="14.4" fill="#dc0000" stroke="#111" stroke-width="1.5"/>
<text x="374.6" y="21.69" font-family='"Liberation Sans", Arial, sans-serif' font-weight="bold" font-size="14.5" fill="#fff" text-anchor="middle">2</text>
<ellipse cx="374.6" cy="293.1" rx="15.4" ry="14.4" fill="#dc0000" stroke="#111" stroke-width="1.5"/>
<text x="374.6" y="298.26" font-family='"Liberation Sans", Arial, sans-serif' font-weight="bold" font-size="11.9" fill="#fff" text-anchor="middle">3</text>
<ellipse cx="17.1" cy="292.8" rx="15.7" ry="14.2" fill="#dc0000" stroke="#111" stroke-width="1.5"/>
<text x="17.1" y="297.35" font-family='"Liberation Sans", Arial, sans-serif' font-weight="bold" font-size="10.2" fill="#fff" text-anchor="middle">4</text>
<text x="45.2" y="20.5" font-family='"Liberation Sans", Arial, sans-serif' font-weight="bold" font-size="14.2" fill="#c00000" textLength="121" lengthAdjust="spacingAndGlyphs">Forskolin response</text>
<text x="398.2" y="20.8" font-family='"Liberation Sans", Arial, sans-serif' font-weight="bold" font-size="14.2" fill="#c00000" textLength="178.6" lengthAdjust="spacingAndGlyphs">Forskolin dose optimization</text>
<text x="53.8" y="298.5" font-family='"Liberation Sans", Arial, sans-serif' font-weight="bold" font-size="14.2" fill="#c00000" textLength="121.8" lengthAdjust="spacingAndGlyphs">Profile Antagonists</text>
<text x="406.2" y="299.2" font-family='"Liberation Sans", Arial, sans-serif' font-weight="bold" font-size="14.2" fill="#c00000" textLength="94.1" lengthAdjust="spacingAndGlyphs">EC<tspan font-size="9.8" dy="4.2">80</tspan><tspan dy="-4.2"> of Agonist</tspan></text>
<text x="459.6" y="533.1" font-family='"Liberation Sans", Arial, sans-serif' font-weight="bold" font-style="italic" font-size="30" fill="#1668e3" stroke="#1668e3" stroke-width="2.6" stroke-linejoin="miter" textLength="160" lengthAdjust="spacingAndGlyphs">Discove</text>
<rect x="458.6" y="537" width="168.4" height="1.8" fill="#1668e3"/>
<text transform="translate(620.6 533.1) scale(1.2 1)" font-family='"Liberation Sans", Arial, sans-serif' font-weight="bold" font-style="italic" font-size="23.5" fill="#dc0a14" stroke="#dc0a14" stroke-width="1.8">R</text>
<text transform="translate(632.6 542.5) scale(1.3 1)" font-family='"Liberation Sans", Arial, sans-serif' font-weight="bold" font-style="italic" font-size="29" fill="#dc0a14" stroke="#dc0a14" stroke-width="1.2">x</text>
<path d="M630.7 525V533.3M629.3 527.3L630.7 524.8L632.1 527.3" stroke="#777" stroke-width="0.9" fill="none"/>
</svg></body></html>
